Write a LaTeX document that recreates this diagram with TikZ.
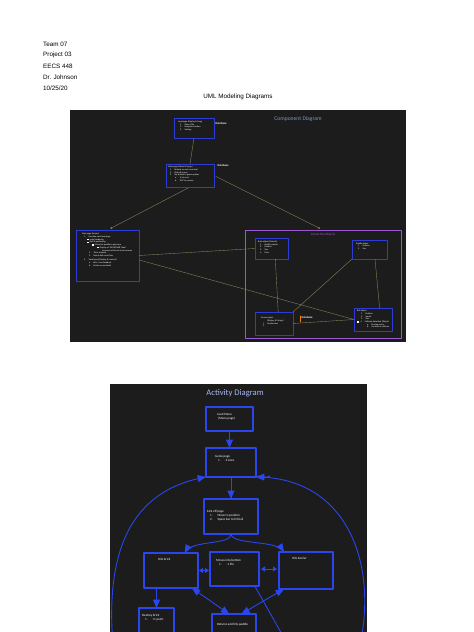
\documentclass[tikz,border=0pt]{standalone}
\usepackage{fontspec}
\setmainfont{Liberation Sans}
\newfontfamily\diafont{Carlito}
\usepackage{tikz}
\usetikzlibrary{arrows}
\usetikzlibrary{arrows.meta}
\usetikzlibrary{calc}
\usetikzlibrary{positioning}

\definecolor{panel}{HTML}{1C1C1C}
\definecolor{boxblue}{HTML}{2C3CD8}
\definecolor{actblue}{HTML}{2A46EC}
\definecolor{objpurple}{HTML}{9A58D0}
\definecolor{wire}{HTML}{8E8A5C}
\definecolor{comptitle}{HTML}{8196C8}
\definecolor{acttitle}{HTML}{A8B8F2}

\tikzset{
  compbox/.style={draw=boxblue,line width=1pt,inner sep=0pt,outer sep=0pt},
  objbox/.style={draw=objpurple,line width=1pt,inner sep=0pt,outer sep=0pt},
  comptext/.style={text=white,font=\diafont\fontsize{2.2}{2.7}\selectfont,align=left,inner sep=0pt,anchor=north west},
  tagtext/.style={text=white,font=\diafont\bfseries\fontsize{2.8}{3}\selectfont,inner sep=0.4pt},
  compline/.style={draw=wire,line width=0.35pt},
  comptip/.style={-{Triangle[length=2pt,width=1.8pt]}},
  actbox/.style={draw=actblue,line width=1.1pt,inner sep=0pt,outer sep=0pt},
  acttext/.style={text=white,font=\diafont\fontsize{3.2}{4}\selectfont,align=left,inner sep=0pt,anchor=north west},
  actline/.style={draw=actblue,line width=0.9pt},
  twotip/.style={{Triangle[length=4pt,width=5pt]}-{Triangle[length=4pt,width=5pt]}},
  headtext/.style={font=\fontsize{6.3}{7}\selectfont,inner sep=0pt,anchor=west}
}

\begin{document}
\begin{tikzpicture}[x=1pt,y=-1pt,line cap=round,line join=round,>=triangle 45]
        \useasboundingbox (0,0) rectangle (474,632);
        \clip (0,0) rectangle (474,632);
        \fill[white] (0,0) rectangle (474,632);
        % header
        \node[headtext] (team) at (43,44) {Team 07};
        \node[headtext] (proj) at (43,55) {Project 03};
        \node[headtext] (course) at (43,66) {EECS 448};
        \node[headtext] (prof) at (43,77) {Dr. Johnson};
        \node[headtext] (date) at (43,88) {10/25/20};
        \node[font=\fontsize{6.3}{7}\selectfont,inner sep=0pt] (uml) at (238,97) {UML Modeling Diagrams};
        %
        % component diagram
        \fill[panel] (70,110) rectangle (406,342);
        \node[text=comptitle,font=\diafont\fontsize{5.6}{6}\selectfont,inner sep=0pt] (comptitle) at (298,119) {Component Diagram};
        %
        \node[compbox,minimum width=40pt,minimum height=20pt] (load) at (194,128) {};
        \node[comptext] (loadtxt) at ([shift={(4,2.5)}]load.north west) {Load page (Display \& Song)\\
          \hspace{2pt}1.\hspace{2pt} Game Title\\ \hspace{2pt}2.\hspace{2pt} Navigation button\\ \hspace{2pt}3.\hspace{2pt} Settings};
        \node[tagtext,anchor=west] (loadtag) at (215,124) {Database};
        %
        \node[compbox,minimum width=48pt,minimum height=23pt] (main) at (190,175.5) {};
        \node[comptext] (maintxt) at ([shift={(2,2)}]main.north west) {Main page (Menu \& Songs)\\
          \hspace{2pt}1.\hspace{2pt} Refresh on each new level\\ \hspace{2pt}2.\hspace{2pt} Kick-off screen\\
          \hspace{2pt}3.\hspace{2pt} Key button to game options\\ \hspace{7pt}a.\hspace{2pt} `A' to start\\ \hspace{7pt}b.\hspace{2pt} `ESC' to resume};
        \node[tagtext,anchor=west] (maintag) at (217,166) {Database};
        %
        \node[compbox,minimum width=63pt,minimum height=51pt] (start) at (107.5,255.5) {};
        \node[comptext] (starttxt) at ([shift={(6,3)}]start.north west) {Start page (Screen)\\
          \hspace{2pt}1.\hspace{2pt} Function each level page\\
          \hspace{5pt}\rule{1.3pt}{1.3pt}\hspace{1pt} Level rendering\\
          \hspace{5pt}\rule{1.3pt}{1.3pt}\hspace{1pt} Ball \& positioning\\
          \hspace{10pt}\rule{1.3pt}{1.3pt}\hspace{1pt} Move the paddle to get score\\
          \hspace{15pt}\rule{1.3pt}{1.3pt}\hspace{1pt} Display of `GAMEOVER' label\\
          \hspace{20pt}increases with each level increase\\
          \hspace{7pt}2.\hspace{2pt} Timer elapsed\\
          \hspace{7pt}3.\hspace{2pt} Detect Ball out of Box\\[1.5pt]
          \hspace{2pt}2.\hspace{2pt} Track board (Display \& controls)\\
          \hspace{7pt}a.\hspace{2pt} Win / Loss feedback\\
          \hspace{7pt}b.\hspace{2pt} Points accumulated};
        %
        \node[objbox,minimum width=156pt,minimum height=108pt] (objs) at (323,284) {};
        \node[text=objpurple,font=\diafont\fontsize{3.2}{4}\selectfont,inner sep=0pt] (objstitle) at (323,235) {Interactive Objects};
        %
        \node[compbox,minimum width=33pt,minimum height=21pt] (brick) at (271.5,248.5) {};
        \node[comptext] (bricktxt) at ([shift={(3,2.5)}]brick.north west) {Brick object (Control)\\
          \hspace{2pt}1.\hspace{2pt} Health counter\\ \hspace{2pt}2.\hspace{2pt} Position\\
          \hspace{2pt}3.\hspace{2pt} Size\\ \hspace{2pt}4.\hspace{2pt} Color};
        %
        \node[compbox,minimum width=35pt,minimum height=19pt] (paddle) at (369.5,249.5) {};
        \node[comptext] (paddletxt) at ([shift={(4,2.5)}]paddle.north west) {Paddle object\\
          \hspace{2pt}1.\hspace{2pt} Position\\ \hspace{2pt}2.\hspace{2pt} Size};
        %
        \node[compbox,minimum width=38pt,minimum height=23pt] (screen) at (274,323.5) {};
        \node[comptext] (screentxt) at ([shift={(6,5)}]screen.north west) {Screen object\\
          \hspace{6pt}(Display \& Strings)\\ \hspace{2pt}1.\hspace{2pt} Render text\\ \hspace{2pt}2.};
        \node[tagtext,anchor=west] (screentag) at (301,318) {Database};
        \draw[orange,line width=0.6pt] (300,316) -- (300,322);
        %
        \node[compbox,minimum width=38pt,minimum height=23pt] (ball) at (373,319.5) {};
        \node[comptext] (balltxt) at ([shift={(3,2)}]ball.north west) {Ball object\\
          \hspace{4pt}1.\hspace{2pt} Position\\ \hspace{4pt}2.\hspace{2pt} Speed\\ \hspace{4pt}3.\hspace{2pt} Size\\
          \rule{1.3pt}{1.3pt}\hspace{2pt}4.\hspace{2pt} Collision detection (Object)\\
          \hspace{10pt}a.\hspace{2pt} Moving vector\\ \hspace{10pt}b.\hspace{2pt} Location at collision};
        %
        \draw[compline] (load.south) -- (main.north);
        \draw[compline,comptip,shorten <=2pt,shorten >=3pt] (main.south) -- (start.north);
        \draw[compline,comptip,shorten <=2pt,shorten >=3pt] (main.east) -- (objs.north);
        \draw[compline] (start.east) -- (brick.west);
        \draw[compline] (start.-8) -- (ball.west);
        \draw[compline] (brick.-70) -- (screen.70);
        \draw[compline] (screen.north east) -- (paddle.south west);
        \draw[compline] (screen.east) -- (ball.west);
        \draw[compline] (paddle.-60) -- (ball.60);
        %
        % activity diagram
        \fill[panel] (110,384) rectangle (367,632);
        \node[text=acttitle,font=\diafont\fontsize{8.6}{9}\selectfont,inner sep=0pt] (acttitle) at (235,393) {Activity Diagram};
        %
        \node[actbox,minimum width=47pt,minimum height=24pt] (menu) at (229.5,419) {};
        \node[acttext] (menutxt) at ([shift={(11,6)}]menu.north west) {Load Menu\\ \hspace{1pt}(Menu page)};
        %
        \node[actbox,minimum width=50pt,minimum height=29pt] (game) at (231,462.5) {};
        \node[acttext] (gametxt) at ([shift={(9,7)}]game.north west) {Game page\\ \hspace{3pt}1.\hspace{4pt} 3 Lives};
        %
        \node[actbox,minimum width=54pt,minimum height=35pt] (kick) at (231,516.5) {};
        \node[acttext] (kicktxt) at ([shift={(3,11)}]kick.north west) {Kick off page\\
          \hspace{3pt}1.\hspace{4pt} Move to position\\ \hspace{3pt}2.\hspace{4pt} Space bar to hit ball};
        %
        \node[actbox,minimum width=54pt,minimum height=35pt] (hitbrick) at (171,570.5) {};
        \node[acttext] (hitbricktxt) at ([shift={(14,5)}]hitbrick.north west) {Hits brick};
        %
        \node[actbox,minimum width=49pt,minimum height=34pt] (moves) at (234.5,569) {};
        \node[acttext] (movestxt) at ([shift={(6,7)}]moves.north west) {Moves into bottom\\ \hspace{3pt}1.\hspace{4pt} -1 life};
        %
        \node[actbox,minimum width=54pt,minimum height=37pt] (hitbarrier) at (306,570.5) {};
        \node[acttext] (hitbarriertxt) at ([shift={(13,5)}]hitbarrier.north west) {Hits barrier};
        %
        \node[actbox,minimum width=35pt,minimum height=36pt] (destroy) at (156.5,626) {};
        \node[acttext] (destroytxt) at ([shift={(3,6)}]destroy.north west) {Destroy brick\\ \hspace{3pt}1.\hspace{4pt} +1 point};
        %
        \node[actbox,minimum width=44pt,minimum height=36pt] (returns) at (234,632) {};
        \node[acttext] (returnstxt) at ([shift={(5,9)}]returns.north west) {Returns and hits paddle};
        %
        \coordinate (loopL) at (113,645);
        \coordinate (loopR) at (360,645);
        \coordinate (offB) at (288,645);
        %
        \draw[actline,->] (menu.south) -- (menu.south |- game.north);
        \draw[actline,->] (game.south) -- (game.south |- kick.north);
        \draw[actline,->] (kick.south) .. controls (232,545) and (192,540) .. (hitbrick.52);
        \draw[actline,->] (kick.south) .. controls (232,545) and (276,540) .. (hitbarrier.140);
        \draw[actline,twotip,shorten <=1pt,shorten >=1pt] (hitbrick.east) -- (hitbrick.east -| moves.west);
        \draw[actline,twotip,shorten <=2pt,shorten >=2pt] (moves.east) -- (moves.east -| hitbarrier.west);
        \draw[actline,->] (hitbrick.south -| destroy.north) -- (destroy.north);
        \draw[actline,<->] (hitbrick.-40) -- (returns.105);
        \draw[actline,<->] (hitbarrier.-140) -- (returns.68);
        \draw[actline] (moves.-40) -- (offB);
        \draw[actline,->] (loopL) .. controls (106,560) and (125,492) .. (game.south west);
        \draw[actline,->] (loopR) .. controls (378,560) and (345,478) .. (game.south east);
        \draw[actline] (game.south east) .. controls (261,473) and (265,480) .. (270,476);
      \end{tikzpicture}
\end{document}
